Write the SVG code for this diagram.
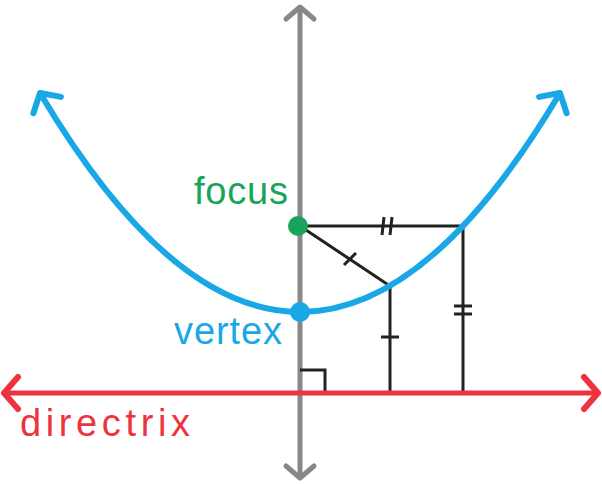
<svg xmlns="http://www.w3.org/2000/svg" width="602" height="485" viewBox="0 0 602 485">
<style>
.t{font-family:"Liberation Sans",Arial,sans-serif;font-size:38px}
.k{stroke:#222;stroke-width:3;fill:none}
</style>
<defs>
<marker id="ag" markerUnits="userSpaceOnUse" markerWidth="40" markerHeight="40" refX="20" refY="20" orient="auto-start-reverse" viewBox="0 0 40 40"><path d="M8,6 L20,20 L8,34" fill="none" stroke="#888" stroke-width="5" stroke-linecap="round" stroke-linejoin="round"/></marker>
<marker id="ar" markerUnits="userSpaceOnUse" markerWidth="40" markerHeight="40" refX="20" refY="20" orient="auto-start-reverse" viewBox="0 0 40 40"><path d="M6,4 L20,20 L6,36" fill="none" stroke="#ee3340" stroke-width="6" stroke-linecap="round" stroke-linejoin="round"/></marker>
<marker id="ab" markerUnits="userSpaceOnUse" markerWidth="40" markerHeight="40" refX="20" refY="20" orient="auto-start-reverse" viewBox="0 0 40 40"><path d="M6,4 L20,20 L6,36" fill="none" stroke="#1aa7e6" stroke-width="6" stroke-linecap="round" stroke-linejoin="round"/></marker>
</defs>
<g id="connectors">
<line x1="300" y1="478" x2="300" y2="7" stroke="#888" stroke-width="5" marker-start="url(#ag)" marker-end="url(#ag)"/>
<path class="k" d="M300,226 H463 V393 M300,226 L390,286 V393 M300,370 H325 V393"/>
<path class="k" d="M384,217 L382,235 M392,217 L390,235 M454,306 H472 M454,314 H472 M344,265 L356,253 M381,337 H399"/>
<line x1="4" y1="393" x2="598" y2="393" stroke="#ee3340" stroke-width="5" marker-start="url(#ar)" marker-end="url(#ar)"/>
<path d="M40,93 Q300,531 560,93" fill="none" stroke="#1aa7e6" stroke-width="6" marker-start="url(#ab)" marker-end="url(#ab)"/>
</g>
<g id="focus"><circle cx="298" cy="226" r="10" fill="#1aa35a"/><text class="t" x="194" y="204" fill="#1aa35a" textLength="94">focus</text></g>
<g id="vertex"><circle cx="300" cy="312" r="10" fill="#1aa7e6"/><text class="t" x="174" y="344" fill="#1aa7e6" textLength="108">vertex</text></g>
<g id="directrix"><text class="t" x="20" y="436" fill="#ee3340" textLength="170">directrix</text></g>
</svg>
